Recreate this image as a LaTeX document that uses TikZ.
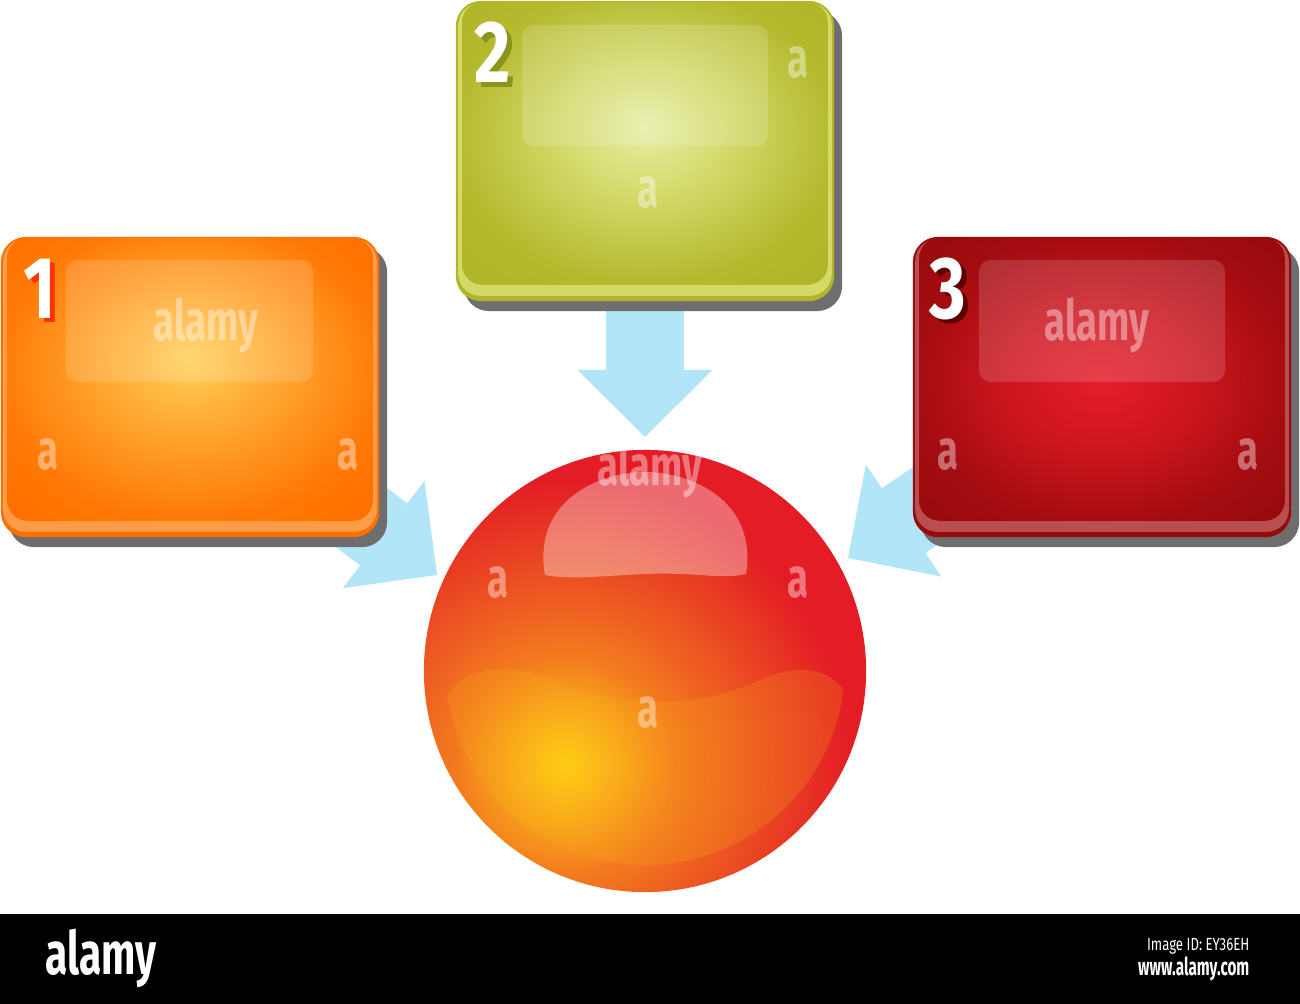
\documentclass[tikz,border=0pt]{standalone}
\usepackage{fontspec}
\setmainfont{Fira Sans}
\usetikzlibrary{arrows.meta,shadows,backgrounds}

\definecolor{shadowgray}{HTML}{6E6E6E}
\definecolor{arrowblue}{HTML}{B3E5F8}
% orange box
\definecolor{orangeedge}{HTML}{FF7000}
\definecolor{orangerim}{HTML}{FF9C45}
\definecolor{orangein}{HTML}{FFD05A}
\definecolor{orangemid}{HTML}{FFA830}
\definecolor{orangeout}{HTML}{FF7A08}
\definecolor{numone}{HTML}{FF3300}
% olive box
\definecolor{oliveedge}{HTML}{B0B52A}
\definecolor{oliverim}{HTML}{D3DA66}
\definecolor{olivein}{HTML}{E7EDA4}
\definecolor{olivemid}{HTML}{D2D968}
\definecolor{oliveout}{HTML}{B4B92E}
\definecolor{numtwo}{HTML}{8E9320}
% red box
\definecolor{rededge}{HTML}{980A0C}
\definecolor{redrim}{HTML}{B94E50}
\definecolor{redin}{HTML}{E41E2A}
\definecolor{redmid}{HTML}{CF161F}
\definecolor{redout}{HTML}{A30C10}
\definecolor{numthree}{HTML}{5C0000}
% ball
\definecolor{ballyellow}{HTML}{FFD313}
\definecolor{ballamber}{HTML}{FBB41A}
\definecolor{ballorange}{HTML}{F37A1F}
\definecolor{ballredone}{HTML}{EC5222}
\definecolor{ballredtwo}{HTML}{E31C25}

\pgfdeclareradialshading{glowone}{\pgfpoint{0bp}{4bp}}{color(0bp)=(orangein); color(12bp)=(orangemid); color(26bp)=(orangeout); color(34bp)=(orangeedge); color(50bp)=(orangeedge)}
\pgfdeclareradialshading{glowtwo}{\pgfpoint{0bp}{3bp}}{color(0bp)=(olivein); color(12bp)=(olivemid); color(26bp)=(oliveout); color(34bp)=(oliveedge); color(50bp)=(oliveedge)}
\pgfdeclareradialshading{glowthree}{\pgfpoint{0bp}{0bp}}{color(0bp)=(redin); color(12bp)=(redmid); color(26bp)=(redout); color(34bp)=(rededge); color(50bp)=(rededge)}
\pgfdeclareradialshading{ballglow}{\pgfpoint{0bp}{0bp}}{color(0bp)=(ballyellow); color(2.5bp)=(ballamber); color(6.5bp)=(ballorange); color(11bp)=(ballredone); color(17bp)=(ballredtwo); color(50bp)=(ballredtwo)}

\begin{document}
\begin{tikzpicture}[x=0.01cm,y=-0.01cm,
    boxnode/.style={rounded corners=0.25cm, minimum width=3.78cm, minimum height=3cm, inner sep=0pt,
      general shadow={fill=shadowgray, shadow xshift=0.08cm, shadow yshift=-0.1cm}},
    flowarrow/.style={draw=arrowblue, line width=0.78cm,
      -{Triangle[length=0.67cm 0 0, width=1.35cm 0 0, line width=0pt]}},
    numlabel/.style={font=\bfseries\fontsize{25}{25}\selectfont, text=white, inner sep=0pt},
    wmark/.style={font=\bfseries\fontsize{16}{16}\selectfont, text=white, opacity=0.4, inner sep=0pt},
    barfont/.style={text=white, inner sep=0pt}]

\useasboundingbox (0,0) rectangle (1300,1004);

% arrow tips
\coordinate (tip1) at (437,575);
\coordinate (tip2) at (645,437);
\coordinate (tip3) at (848,558);

% box 1
\node[boxnode, fill=orangeedge] (b1) at (190,387) {};
\fill[orangerim, rounded corners=0.22cm] ([xshift=0.03cm,yshift=-0.03cm]b1.north west) rectangle ([xshift=-0.03cm,yshift=0.06cm]b1.south east);
\shade[shading=glowone, rounded corners=0.2cm] ([xshift=0.07cm,yshift=-0.02cm]b1.north west) rectangle ([xshift=-0.07cm,yshift=0.17cm]b1.south east);
\fill[white, opacity=0.15, rounded corners=0.12cm] ([xshift=-1.24cm,yshift=1.27cm]b1.center) rectangle ([xshift=1.23cm,yshift=0.05cm]b1.center);

% box 2
\node[boxnode, fill=oliveedge] (b2) at (645,151) {};
\fill[oliverim, rounded corners=0.22cm] ([xshift=0.03cm,yshift=-0.03cm]b2.north west) rectangle ([xshift=-0.03cm,yshift=0.06cm]b2.south east);
\shade[shading=glowtwo, rounded corners=0.2cm] ([xshift=0.07cm,yshift=-0.02cm]b2.north west) rectangle ([xshift=-0.07cm,yshift=0.17cm]b2.south east);
\fill[white, opacity=0.15, rounded corners=0.12cm] ([xshift=-1.23cm,yshift=1.26cm]b2.center) rectangle ([xshift=1.23cm,yshift=0.05cm]b2.center);

% box 3
\node[boxnode, fill=rededge] (b3) at (1102,387) {};
\fill[redrim, rounded corners=0.22cm] ([xshift=0.03cm,yshift=-0.03cm]b3.north west) rectangle ([xshift=-0.03cm,yshift=0.06cm]b3.south east);
\shade[shading=glowthree, rounded corners=0.2cm] ([xshift=0.07cm,yshift=-0.02cm]b3.north west) rectangle ([xshift=-0.07cm,yshift=0.17cm]b3.south east);
\fill[white, opacity=0.15, rounded corners=0.12cm] ([xshift=-1.23cm,yshift=1.27cm]b3.center) rectangle ([xshift=1.23cm,yshift=0.05cm]b3.center);

% the ball
\node[circle, minimum size=4.42cm, inner sep=0pt] (ball) at (645,671) {};
\begin{scope}
  \clip (ball.center) circle[radius=2.21cm];
  \shade[shading=ballglow] (565,765) circle[radius=4.2cm];
  \begin{scope}
    \clip (645,665) circle[radius=2cm];
    \fill[ballamber, opacity=0.2] (430,720) -- (446,700) .. controls (460,665) and (510,660) .. (570,685)
      .. controls (620,705) and (690,712) .. (760,680) .. controls (800,662) and (835,668) .. (850,700)
      -- (850,900) -- (430,900) -- cycle;
  \end{scope}
  \node[wmark] (wb) at (650,470) {\scalebox{0.68}[1]{alamy}};
\end{scope}
\fill[white, opacity=0.35] (545,575) .. controls (532,500) and (600,472) .. (645,472)
  .. controls (690,472) and (758,500) .. (746,574) .. controls (720,580) and (700,572) .. (645,574)
  .. controls (600,576) and (570,580) .. (545,575) -- cycle;

% arrows behind everything
\begin{pgfonlayer}{background}
  \draw[flowarrow] (b1.center) -- (tip1);
  \draw[flowarrow] (b2.center) -- (tip2);
  \draw[flowarrow] (b3.center) -- (tip3);
\end{pgfonlayer}

% watermarks
\node[wmark] (w1) at (206,325) {\scalebox{0.68}[1]{alamy}};
\node[wmark] (w1l) at (48,455) {\scalebox{0.68}[1]{a}};
\node[wmark] (w1r) at (348,455) {\scalebox{0.68}[1]{a}};
\node[wmark] (w2r) at (798,63) {\scalebox{0.68}[1]{a}};
\node[wmark] (w2c) at (648,193) {\scalebox{0.68}[1]{a}};
\node[wmark] (w3) at (1097,325) {\scalebox{0.68}[1]{alamy}};
\node[wmark] (w3l) at (948,455) {\scalebox{0.68}[1]{a}};
\node[wmark] (w3r) at (1248,455) {\scalebox{0.68}[1]{a}};
\node[wmark] (wbl) at (498,583) {\scalebox{0.68}[1]{a}};
\node[wmark] (wbr) at (798,583) {\scalebox{0.68}[1]{a}};
\node[wmark] (wbc) at (648,713) {\scalebox{0.68}[1]{a}};

% numbers
\node[numlabel, text=numone] (n1s) at (45,293) {\scalebox{0.8}[1]{1}};
\node[numlabel] (n1) at (40,289) {\scalebox{0.8}[1]{1}};
\node[numlabel, text=numtwo] (n2s) at (498,57) {\scalebox{0.8}[1]{2}};
\node[numlabel] (n2) at (493,52) {\scalebox{0.8}[1]{2}};
\node[numlabel, text=numthree] (n3s) at (953,293) {\scalebox{0.8}[1]{3}};
\node[numlabel] (n3) at (948,289) {\scalebox{0.8}[1]{3}};

% bottom bar
\fill[black] (0,914) rectangle (1300,1004);
\node[barfont, font=\bfseries\fontsize{17}{17}\selectfont] (logo) at (101,958) {\scalebox{0.68}[1]{alamy}};
\node[barfont, font=\fontsize{5}{5}\selectfont, anchor=east] (imgid) at (1250,946) {\scalebox{0.75}[1]{Image ID: EY36EH}};
\node[barfont, font=\bfseries\fontsize{7}{7}\selectfont, anchor=east] (site) at (1250,969) {\scalebox{0.62}[1]{www.alamy.com}};
\end{tikzpicture}
\end{document}
